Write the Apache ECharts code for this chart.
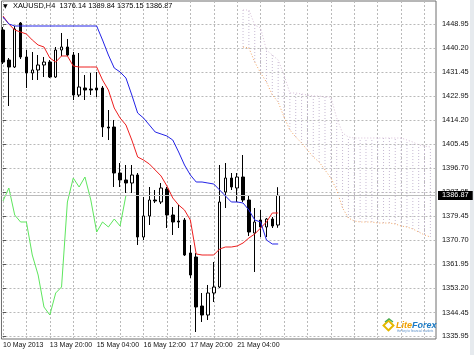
<!DOCTYPE html>
<html>
<head>
<meta charset="utf-8">
<script src="https://cdn.jsdelivr.net/npm/echarts@6/dist/echarts.min.js"></script>
<style>
  html, body { margin: 0; padding: 0; background: #fff; }
  #chart { width: 474px; height: 355px; }
</style>
</head>
<body>
<div id="chart"></div>
<script>
// XAUUSD H4, 48 bars; cloud runs 26 bars ahead
const dateLabels = ['10 May 2013', '13 May 20:00', '15 May 04:00', '16 May 12:00', '17 May 20:00', '21 May 04:00'];
const dateLabelBars = [0, 8, 16, 24, 32, 40];
const gridBars = [0, 4, 8, 12, 16, 20, 24, 28, 32, 36, 40, 44, 48, 52, 56, 60, 64, 68, 72];
const priceTicks = [1448.95, 1440.20, 1431.45, 1422.95, 1414.20, 1405.45, 1396.70, 1387.95, 1379.45, 1370.70, 1361.95, 1353.20, 1344.45, 1335.95];

const opens = [1446.77, 1435.91, 1433.37, 1449.31, 1437.00, 1431.20, 1432.29, 1434.10, 1435.18, 1429.75, 1439.53, 1440.62, 1437.72, 1423.23, 1425.77, 1425.41, 1425.77, 1425.77, 1411.64, 1411.64, 1394.98, 1392.45, 1391.36, 1394.26, 1371.80, 1379.41, 1385.20, 1384.48, 1389.19, 1379.77, 1377.60, 1377.96, 1366.01, 1364.56, 1346.81, 1343.55, 1351.52, 1353.69, 1388.10, 1393.17, 1389.55, 1393.53, 1385.20, 1373.25, 1377.96, 1375.43, 1378.32, 1376.14];
const highs = [1447.86, 1436.63, 1448.22, 1449.67, 1439.53, 1438.81, 1437.72, 1437.00, 1435.91, 1440.62, 1445.69, 1443.52, 1438.81, 1438.44, 1430.48, 1431.20, 1431.56, 1426.49, 1417.80, 1414.18, 1398.60, 1397.88, 1397.88, 1394.98, 1386.29, 1389.91, 1388.83, 1391.36, 1389.91, 1382.67, 1383.39, 1378.68, 1368.91, 1366.01, 1351.52, 1354.42, 1362.75, 1397.88, 1398.60, 1394.98, 1394.98, 1401.50, 1387.01, 1382.31, 1381.58, 1378.68, 1379.05, 1389.84];
const lows = [1434.46, 1419.25, 1433.01, 1436.27, 1425.77, 1428.67, 1428.67, 1429.75, 1429.39, 1429.39, 1437.36, 1437.36, 1421.42, 1422.51, 1421.42, 1423.23, 1422.51, 1408.02, 1406.93, 1389.91, 1389.91, 1387.74, 1387.74, 1368.91, 1370.72, 1376.15, 1384.12, 1383.76, 1375.06, 1372.53, 1375.06, 1364.92, 1356.95, 1337.40, 1341.02, 1341.74, 1348.26, 1353.33, 1382.31, 1388.83, 1384.48, 1384.48, 1372.17, 1359.13, 1371.80, 1371.80, 1375.06, 1375.15];
const closes = [1435.18, 1433.37, 1447.14, 1437.00, 1431.20, 1432.29, 1434.10, 1435.18, 1429.75, 1439.53, 1440.62, 1437.72, 1423.23, 1426.13, 1425.04, 1425.04, 1425.04, 1411.64, 1411.28, 1394.98, 1392.45, 1391.36, 1394.26, 1371.80, 1379.41, 1385.20, 1384.84, 1389.55, 1379.77, 1377.24, 1377.24, 1365.28, 1358.04, 1346.45, 1343.55, 1351.52, 1353.69, 1384.48, 1393.17, 1389.91, 1393.53, 1385.20, 1373.61, 1377.24, 1375.43, 1378.32, 1375.79, 1386.87];

const tenkan = [1451.85, 1448.95, 1446.77, 1446.05, 1445.33, 1443.15, 1441.34, 1440.62, 1436.63, 1435.18, 1437.36, 1437.36, 1433.74, 1433.37, 1433.37, 1433.37, 1433.37, 1428.67, 1425.04, 1418.52, 1414.90, 1412.37, 1406.93, 1400.78, 1399.69, 1398.24, 1396.07, 1393.90, 1390.27, 1385.93, 1383.39, 1381.58, 1377.96, 1365.65, 1365.28, 1365.28, 1365.28, 1367.46, 1368.18, 1368.18, 1368.54, 1369.63, 1371.44, 1372.89, 1375.06, 1377.24, 1380.50, 1380.50];
const kijun = [1451.48, 1448.95, 1448.22, 1448.22, 1448.22, 1448.22, 1448.22, 1448.22, 1448.22, 1448.22, 1448.22, 1448.22, 1448.22, 1448.22, 1448.22, 1448.22, 1448.22, 1443.15, 1437.72, 1433.01, 1431.56, 1429.39, 1423.23, 1416.71, 1414.90, 1412.37, 1409.83, 1409.11, 1408.38, 1406.93, 1402.59, 1397.88, 1394.26, 1391.72, 1391.72, 1391.36, 1391.00, 1388.83, 1386.65, 1384.48, 1384.48, 1384.12, 1381.58, 1377.96, 1377.24, 1370.72, 1369.27, 1369.27];

// senkou spans, starting at bar 41
const cloudStart = 41;
const senkouA = [1440.62, 1440.26, 1435.18, 1431.20, 1427.94, 1423.23, 1420.70, 1415.26, 1410.56, 1408.02, 1405.85, 1403.31, 1400.78, 1398.97, 1396.07, 1393.17, 1388.83, 1382.31, 1378.68, 1377.60, 1377.24, 1377.24, 1377.24, 1376.87, 1376.87, 1376.87, 1376.51, 1375.79, 1375.43, 1374.70, 1373.61, 1372.53, 1371.80];
const senkouB = [1454.02, 1454.02, 1448.59, 1447.50, 1439.53, 1437.72, 1435.91, 1430.48, 1423.96, 1423.96, 1423.60, 1423.23, 1422.87, 1422.87, 1422.51, 1422.51, 1414.90, 1409.47, 1408.02, 1407.66, 1407.66, 1407.66, 1407.66, 1407.66, 1407.66, 1407.66, 1407.66, 1407.66, 1406.93, 1406.21, 1405.12, 1404.76, 1404.40];

const lastPrice = 1386.87;
const shift = 26;

const candleData = opens.map((o, i) => [i, o, closes[i], lows[i], highs[i]]);
const tenkanData = tenkan.map((v, i) => [i, v]);
const kijunData = kijun.map((v, i) => [i, v]);
const chikouData = closes.slice(shift).map((v, i) => [i, v]);
const spanAData = senkouA.map((v, i) => [cloudStart + i, v]);
const spanBData = senkouB.map((v, i) => [cloudStart + i, v]);
const hatchData = senkouA.map((v, i) => [cloudStart + i, v, senkouB[i]]);

const font = 'Liberation Sans';
const chart = echarts.init(document.getElementById('chart'));

chart.setOption({
  animation: false,
  backgroundColor: '#fff',
  grid: {
    left: 0, right: 38, top: 1, bottom: 16,
    show: true, borderColor: '#6e6e6e', borderWidth: 1, backgroundColor: '#fff'
  },
  xAxis: {
    type: 'value',
    min: -0.26,
    max: 73.96,
    axisLine: { show: false },
    axisTick: { show: false, customValues: gridBars },
    axisLabel: {
      customValues: dateLabelBars,
      formatter: v => dateLabels[dateLabelBars.indexOf(Math.round(v))] || '',
      align: 'left', margin: 3, fontFamily: font, fontSize: 7, color: '#111'
    },
    splitLine: { show: true, lineStyle: { color: '#b9b9b9', type: [2, 2], width: 1 } }
  },
  yAxis: {
    type: 'value',
    position: 'right',
    min: 1334.86,
    max: 1457.28,
    axisLine: { show: false },
    axisTick: { show: true, customValues: priceTicks, length: 3, lineStyle: { color: '#555' } },
    axisLabel: {
      customValues: priceTicks,
      formatter: v => v.toFixed(2),
      margin: 6, fontFamily: font, fontSize: 7.4, color: '#111'
    },
    splitLine: { show: true, lineStyle: { color: '#b9b9b9', type: [2, 2], width: 1 } }
  },
  series: [
    {
      type: 'custom',
      name: 'cloud',
      clip: true,
      data: hatchData,
      encode: { x: 0, y: [1, 2] },
      renderItem: (params, api) => {
        const p1 = api.coord([api.value(0), api.value(1)]);
        const p2 = api.coord([api.value(0), api.value(2)]);
        return {
          type: 'line',
          shape: { x1: p1[0], y1: p1[1], x2: p2[0], y2: p2[1] },
          style: { stroke: '#c6b9d2', lineWidth: 1, lineDash: [1, 2] }
        };
      },
      z: 1
    },
    {
      type: 'line', name: 'Senkou Span A', data: spanAData, showSymbol: false, clip: true,
      lineStyle: { color: '#f4a460', width: 1, type: [1, 2] }, z: 2
    },
    {
      type: 'line', name: 'Senkou Span B', data: spanBData, showSymbol: false, clip: true,
      lineStyle: { color: '#d8bfd8', width: 1, type: [1, 2] }, z: 2
    },
    {
      type: 'line', name: 'Chikou Span', data: chikouData, showSymbol: false, clip: true,
      lineStyle: { color: '#5ee65e', width: 1 }, z: 3
    },
    {
      type: 'candlestick',
      name: 'XAUUSD,H4',
      data: candleData,
      encode: { x: 0, y: [1, 2, 3, 4] },
      barWidth: 3,
      itemStyle: { color: '#fff', color0: '#000', borderColor: '#000', borderColor0: '#000', borderWidth: 1 },
      markLine: {
        silent: true,
        symbol: 'none',
        lineStyle: { color: '#bdbdbd', type: 'solid', width: 1 },
        label: {
          position: 'end', distance: 2, formatter: lastPrice.toFixed(2),
          backgroundColor: '#000', color: '#fff', padding: [1, 4, 1, 4],
          fontFamily: font, fontSize: 7.4
        },
        data: [{ yAxis: lastPrice }]
      },
      z: 4
    },
    {
      type: 'line', name: 'Tenkan-sen', data: tenkanData, showSymbol: false, clip: true,
      lineStyle: { color: '#ee2020', width: 1 }, z: 5
    },
    {
      type: 'line', name: 'Kijun-sen', data: kijunData, showSymbol: false, clip: true,
      lineStyle: { color: '#2323e6', width: 1 }, z: 5
    }
  ],
  graphic: [
    { type: 'rect', shape: { x: 470, y: 0, width: 4, height: 355 }, style: { fill: '#e6eaee' } },
    { type: 'text', left: 3, top: 3, style: { text: '▼', font: '6px "DejaVu Sans"', fill: '#000' } },
    {
      type: 'text', left: 13, top: 2,
      style: { text: 'XAUUSD,H4  1376.14 1389.84 1375.15 1386.87', font: '7.4px "Liberation Sans"', fill: '#000' }
    },
    {
      type: 'group', left: 380, top: 316,
      children: [
        { type: 'rect', shape: { x: 0, y: 0, width: 52, height: 19 }, style: { fill: '#fff' } },
        { type: 'rect', shape: { x: 4, y: 6, width: 7, height: 7 }, rotation: Math.PI / 4, originX: 7.5, originY: 9.5, style: { fill: 'none', stroke: '#e6b800', lineWidth: 2 } },
        { type: 'polyline', shape: { points: [[4, 6], [8, 3], [12, 6]] }, style: { stroke: '#4caf50', lineWidth: 1.5, fill: 'none' } },
        {
          type: 'text', x: 15, y: 5,
          style: {
            text: '{a|Lite}{b|Forex}',
            rich: {
              a: { fontFamily: font, fontSize: 9, fontStyle: 'italic', fontWeight: 'bold', fill: '#f0a000' },
              b: { fontFamily: font, fontSize: 9, fontStyle: 'italic', fontWeight: 'bold', fill: '#1a7ac4' }
            }
          }
        },
        { type: 'text', x: 16, y: 14, style: { text: 'the key to financial markets', font: '3px "Liberation Sans"', fill: '#5a8fc8' } }
      ]
    }
  ]
});
</script>
</body>
</html>
